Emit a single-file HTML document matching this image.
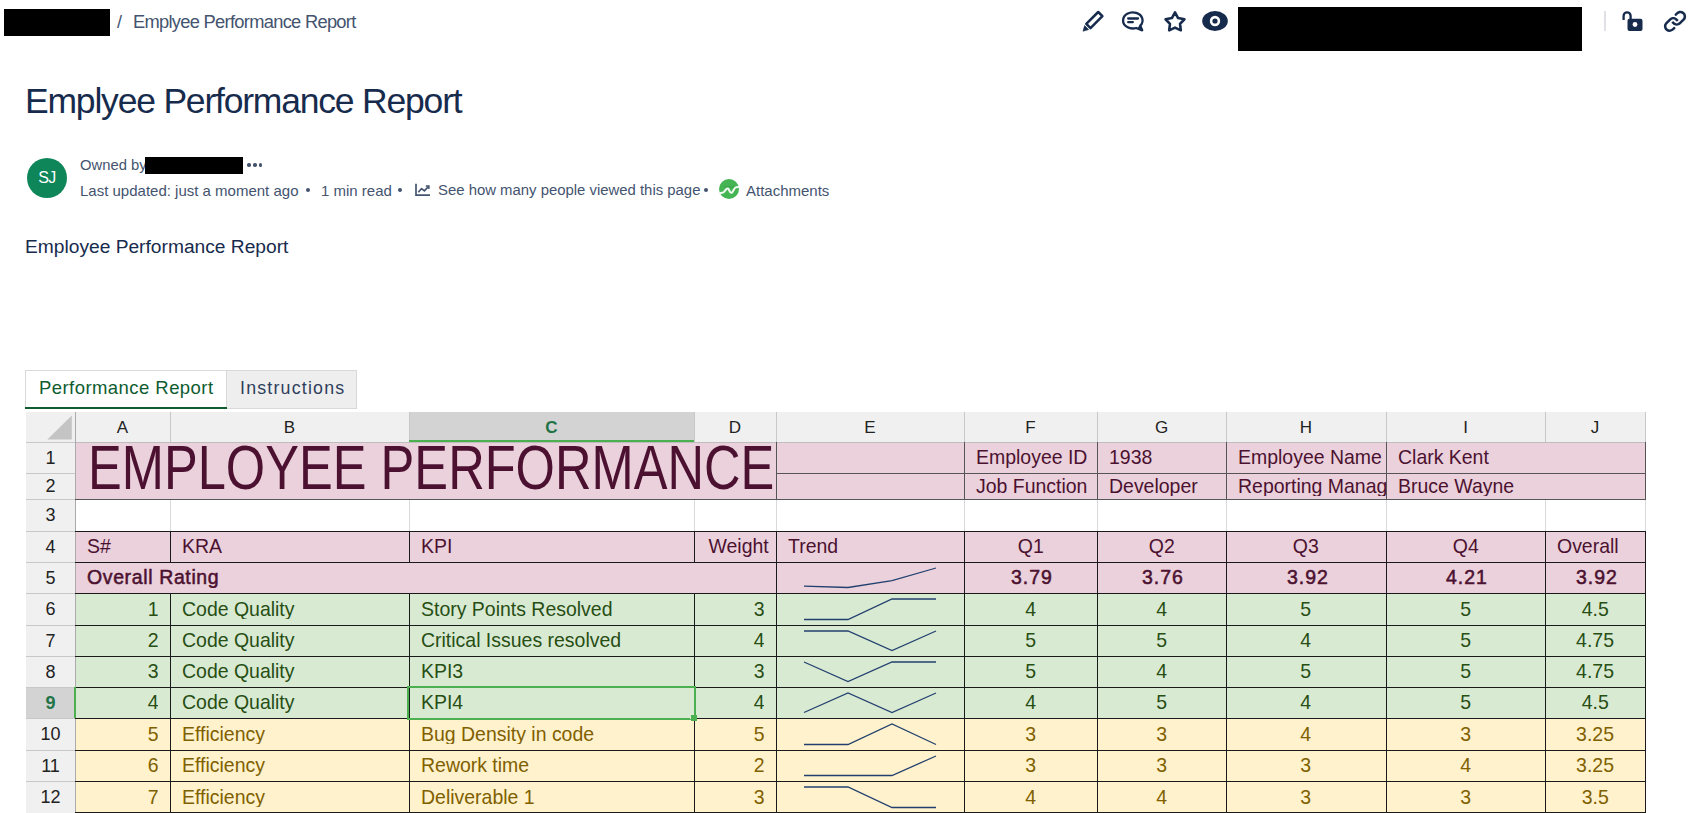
<!DOCTYPE html>
<html><head><meta charset="utf-8"><title>Emplyee Performance Report</title>
<style>
html,body{margin:0;padding:0;background:#fff;}
body{width:1699px;height:813px;overflow:hidden;position:relative;font-family:"Liberation Sans", sans-serif;}
</style></head><body>
<div style="position:absolute;left:4px;top:9px;width:106px;height:27px;background:#000"></div>
<div style="position:absolute;left:117px;top:13.26px;font-size:18px;line-height:18px;color:#44546F;font-weight:400;white-space:pre;">/</div>
<div style="position:absolute;left:133px;top:12.81px;font-size:18.3px;line-height:18.3px;color:#44546F;font-weight:400;white-space:pre;letter-spacing:-0.7px">Emplyee Performance Report</div>
<svg style="position:absolute;left:1080px;top:8px" width="26" height="26" viewBox="0 0 26 26">
<path d="M22.4 8.2 L10.5 20.1 L6.3 15.9 L18.2 4.0 Z" fill="none" stroke="#172B4D" stroke-width="2.5" stroke-linejoin="round"/>
<path d="M3.0 23.2 L4.6 17.6 L8.6 21.6 Z" fill="#172B4D" stroke="#172B4D" stroke-width="0.6" stroke-linejoin="round"/>
</svg>
<svg style="position:absolute;left:1120px;top:8px" width="26" height="26" viewBox="0 0 26 26">
<path d="M16.13 20.0 A9.75 8.05 0 1 1 20.27 17.62 L22.2 22.3 Z" fill="none" stroke="#172B4D" stroke-width="2.3" stroke-linejoin="round"/>
<path d="M22.2 22.3 L20.2 17.0 L17.6 19.4 Z" fill="#172B4D"/>
<path d="M8.2 10.5 H18.0 M8.2 14.2 H12.8" stroke="#172B4D" stroke-width="2.3" stroke-linecap="round"/>
</svg>
<svg style="position:absolute;left:1162px;top:8px" width="26" height="26" viewBox="0 0 26 26">
<polygon points="13.00,4.40 16.12,10.01 22.42,11.24 18.04,15.94 18.82,22.31 13.00,19.60 7.18,22.31 7.96,15.94 3.58,11.24 9.88,10.01" fill="none" stroke="#172B4D" stroke-width="2.6" stroke-linejoin="round"/>
</svg>
<svg style="position:absolute;left:1201px;top:8px" width="28" height="26" viewBox="0 0 28 26">
<ellipse cx="14" cy="13" rx="12.8" ry="10" fill="#172B4D"/>
<circle cx="14" cy="13" r="5.2" fill="#fff"/>
<circle cx="14" cy="13" r="2.6" fill="#172B4D"/>
</svg>
<div style="position:absolute;left:1238px;top:7px;width:344px;height:44px;background:#000"></div>
<div style="position:absolute;left:1604px;top:11px;width:2px;height:20px;background:#DFE1E6"></div>
<svg style="position:absolute;left:1618px;top:8px" width="28" height="26" viewBox="0 0 28 26">
<path d="M5.6 12 V7.9 A3.5 3.5 0 0 1 12.6 7.9 V11" fill="none" stroke="#172B4D" stroke-width="2.3"/>
<rect x="9.5" y="10.8" width="15" height="12.2" rx="2" fill="#172B4D"/>
<circle cx="17" cy="16.5" r="2.4" fill="#fff"/>
</svg>
<svg style="position:absolute;left:1659px;top:5px" width="32" height="32" viewBox="0 0 24 24">
<g transform="translate(12 12) scale(0.93) translate(-12 -12.2)">
<path d="M12.856 5.457l-.937.92a1.002 1.002 0 000 1.437 1.047 1.047 0 001.463 0l.984-.966c.967-.95 2.542-1.135 3.602-.288a2.54 2.54 0 01.203 3.81l-2.903 2.852a2.646 2.646 0 01-3.696 0l-1.11-1.09L9 13.57l1.108 1.089c1.822 1.788 4.802 1.788 6.622 0l2.905-2.852a4.558 4.558 0 00-.357-6.82c-1.893-1.517-4.695-1.226-6.422.47" fill="#172B4D"/>
<path d="M11.144 19.543l.937-.92a1.002 1.002 0 000-1.437 1.047 1.047 0 00-1.462 0l-.985.966c-.967.95-2.542 1.135-3.602.288a2.54 2.54 0 01-.203-3.81l2.903-2.852a2.646 2.646 0 013.696 0l1.11 1.09L15 11.43l-1.108-1.089c-1.822-1.788-4.802-1.788-6.622 0l-2.905 2.852a4.558 4.558 0 00.357 6.82c1.893 1.517 4.695 1.226 6.422-.47" fill="#172B4D"/>
</g>
</svg>
<div style="position:absolute;left:25px;top:83.75px;font-size:35.5px;line-height:35.5px;color:#172B4D;font-weight:400;white-space:pre;letter-spacing:-1.2px">Emplyee Performance Report</div>
<div style="position:absolute;left:27px;top:158px;width:40px;height:40px;border-radius:50%;background:#0F855A"></div>
<div style="position:absolute;left:27px;top:170.46px;font-size:16px;line-height:16px;color:#fff;font-weight:400;white-space:pre;width:40px;text-align:center;letter-spacing:-0.5px">SJ</div>
<div style="position:absolute;left:80px;top:158.47px;font-size:14.8px;line-height:14.8px;color:#44546F;font-weight:400;white-space:pre;">Owned by</div>
<div style="position:absolute;left:145px;top:157px;width:98px;height:17px;background:#000"></div>
<div style="position:absolute;left:247.4px;top:163.3px;width:3.4px;height:3.4px;border-radius:50%;background:#44546F"></div>
<div style="position:absolute;left:253.2px;top:163.3px;width:3.4px;height:3.4px;border-radius:50%;background:#44546F"></div>
<div style="position:absolute;left:259.0px;top:163.3px;width:3.4px;height:3.4px;border-radius:50%;background:#44546F"></div>
<div style="position:absolute;left:80px;top:183.30px;font-size:15px;line-height:15px;color:#44546F;font-weight:400;white-space:pre;">Last updated: just a moment ago</div>
<div style="position:absolute;left:306px;top:188px;width:4px;height:4px;border-radius:50%;background:#44546F"></div>
<div style="position:absolute;left:321px;top:183.30px;font-size:15px;line-height:15px;color:#44546F;font-weight:400;white-space:pre;">1 min read</div>
<div style="position:absolute;left:398px;top:188px;width:4px;height:4px;border-radius:50%;background:#44546F"></div>
<svg style="position:absolute;left:414px;top:182px" width="18" height="14" viewBox="0 0 18 15">
<path d="M1.5 2 V14 H16.5" fill="none" stroke="#44546F" stroke-width="1.8"/>
<path d="M4 11 L7.5 7 L10.5 9.5 L15 4.5" fill="none" stroke="#44546F" stroke-width="1.8" stroke-linejoin="round"/>
<path d="M12 4.2 H15.3 V7.5" fill="none" stroke="#44546F" stroke-width="1.6"/>
</svg>
<div style="position:absolute;left:438px;top:183.39px;font-size:14.9px;line-height:14.9px;color:#44546F;font-weight:400;white-space:pre;">See how many people viewed this page</div>
<div style="position:absolute;left:704px;top:188px;width:4px;height:4px;border-radius:50%;background:#44546F"></div>
<svg style="position:absolute;left:718px;top:178px" width="22" height="22" viewBox="0 0 22 22">
<circle cx="11" cy="11" r="10" fill="#45B553"/>
<path d="M6 9 H20" stroke="#3A9A48" stroke-width="1" opacity="0.7"/>
<path d="M1.5 15.2 L5 14.6 C7 14.2 8 9.5 10 10.5 C11.5 11.2 11.5 15.5 13.5 14.8 C15.5 14 16 9.5 18 9.3 L21 9" fill="none" stroke="#F2FAF2" stroke-width="2" stroke-linecap="round"/>
</svg>
<div style="position:absolute;left:746px;top:183.30px;font-size:15px;line-height:15px;color:#44546F;font-weight:400;white-space:pre;">Attachments</div>
<div style="position:absolute;left:25px;top:236.75px;font-size:19.2px;line-height:19.2px;color:#172B4D;font-weight:400;white-space:pre;">Employee Performance Report</div>
<div style="position:absolute;left:25px;top:370px;width:202px;height:39px;background:#fff;border:1px solid #D9D9D9;border-bottom:none;box-sizing:border-box"></div>
<div style="position:absolute;left:25px;top:407px;width:202px;height:2px;background:#0E5C2F"></div>
<div style="position:absolute;left:39px;top:379.04px;font-size:18.5px;line-height:18.5px;color:#0E5C2F;font-weight:400;white-space:pre;letter-spacing:0.44px">Performance Report</div>
<div style="position:absolute;left:227px;top:370px;width:130px;height:39px;background:#EEEEEE;border:1px solid #D9D9D9;border-left:none;box-sizing:border-box"></div>
<div style="position:absolute;left:240px;top:379.53px;font-size:17.8px;line-height:17.8px;color:#2F3E5C;font-weight:400;white-space:pre;letter-spacing:1.2px">Instructions</div>
<div style="position:absolute;left:26px;top:412px;width:1619px;height:30px;background:#F0F0F0"></div>
<div style="position:absolute;left:26px;top:442px;width:49px;height:371px;background:#F0F0F0"></div>
<div style="position:absolute;left:409px;top:412px;width:285px;height:30px;background:#D3D3D3"></div>
<div style="position:absolute;left:26px;top:687px;width:49px;height:31px;background:#D3D3D3"></div>
<div style="position:absolute;left:75px;top:442px;width:1570px;height:57px;background:#EAD1DC"></div>
<div style="position:absolute;left:75px;top:531px;width:1570px;height:62px;background:#EAD1DC"></div>
<div style="position:absolute;left:75px;top:593px;width:1570px;height:125px;background:#D9EAD3"></div>
<div style="position:absolute;left:75px;top:718px;width:1570px;height:95px;background:#FFF2CC"></div>
<div style="position:absolute;left:75px;top:412px;width:1px;height:30px;background:#C8C8C8"></div>
<div style="position:absolute;left:170px;top:412px;width:1px;height:30px;background:#C8C8C8"></div>
<div style="position:absolute;left:409px;top:412px;width:1px;height:30px;background:#C8C8C8"></div>
<div style="position:absolute;left:694px;top:412px;width:1px;height:30px;background:#C8C8C8"></div>
<div style="position:absolute;left:776px;top:412px;width:1px;height:30px;background:#C8C8C8"></div>
<div style="position:absolute;left:964px;top:412px;width:1px;height:30px;background:#C8C8C8"></div>
<div style="position:absolute;left:1097px;top:412px;width:1px;height:30px;background:#C8C8C8"></div>
<div style="position:absolute;left:1226px;top:412px;width:1px;height:30px;background:#C8C8C8"></div>
<div style="position:absolute;left:1386px;top:412px;width:1px;height:30px;background:#C8C8C8"></div>
<div style="position:absolute;left:1545px;top:412px;width:1px;height:30px;background:#C8C8C8"></div>
<div style="position:absolute;left:1645px;top:412px;width:1px;height:30px;background:#C8C8C8"></div>
<div style="position:absolute;left:26px;top:442px;width:1620px;height:1px;background:#BDBDBD"></div>
<div style="position:absolute;left:26px;top:442px;width:49px;height:1px;background:#C8C8C8"></div>
<div style="position:absolute;left:26px;top:473px;width:49px;height:1px;background:#C8C8C8"></div>
<div style="position:absolute;left:26px;top:499px;width:49px;height:1px;background:#C8C8C8"></div>
<div style="position:absolute;left:26px;top:531px;width:49px;height:1px;background:#C8C8C8"></div>
<div style="position:absolute;left:26px;top:562px;width:49px;height:1px;background:#C8C8C8"></div>
<div style="position:absolute;left:26px;top:593px;width:49px;height:1px;background:#C8C8C8"></div>
<div style="position:absolute;left:26px;top:625px;width:49px;height:1px;background:#C8C8C8"></div>
<div style="position:absolute;left:26px;top:656px;width:49px;height:1px;background:#C8C8C8"></div>
<div style="position:absolute;left:26px;top:687px;width:49px;height:1px;background:#C8C8C8"></div>
<div style="position:absolute;left:26px;top:718px;width:49px;height:1px;background:#C8C8C8"></div>
<div style="position:absolute;left:26px;top:750px;width:49px;height:1px;background:#C8C8C8"></div>
<div style="position:absolute;left:26px;top:781px;width:49px;height:1px;background:#C8C8C8"></div>
<div style="position:absolute;left:75px;top:412px;width:1px;height:401px;background:#ABABAB"></div>
<div style="position:absolute;left:170px;top:499px;width:1px;height:32px;background:#D9D9D9"></div>
<div style="position:absolute;left:409px;top:499px;width:1px;height:32px;background:#D9D9D9"></div>
<div style="position:absolute;left:694px;top:499px;width:1px;height:32px;background:#D9D9D9"></div>
<div style="position:absolute;left:776px;top:499px;width:1px;height:32px;background:#D9D9D9"></div>
<div style="position:absolute;left:964px;top:499px;width:1px;height:32px;background:#D9D9D9"></div>
<div style="position:absolute;left:1097px;top:499px;width:1px;height:32px;background:#D9D9D9"></div>
<div style="position:absolute;left:1226px;top:499px;width:1px;height:32px;background:#D9D9D9"></div>
<div style="position:absolute;left:1386px;top:499px;width:1px;height:32px;background:#D9D9D9"></div>
<div style="position:absolute;left:1545px;top:499px;width:1px;height:32px;background:#D9D9D9"></div>
<div style="position:absolute;left:1645px;top:499px;width:1px;height:32px;background:#D9D9D9"></div>
<div style="position:absolute;left:776px;top:473px;width:869px;height:1px;background:#555"></div>
<div style="position:absolute;left:75px;top:499px;width:1571px;height:1px;background:#555"></div>
<div style="position:absolute;left:776px;top:442px;width:1px;height:57px;background:#555"></div>
<div style="position:absolute;left:964px;top:442px;width:1px;height:57px;background:#555"></div>
<div style="position:absolute;left:1097px;top:442px;width:1px;height:57px;background:#555"></div>
<div style="position:absolute;left:1226px;top:442px;width:1px;height:57px;background:#555"></div>
<div style="position:absolute;left:1386px;top:442px;width:1px;height:57px;background:#555"></div>
<div style="position:absolute;left:1645px;top:442px;width:1px;height:57px;background:#555"></div>
<div style="position:absolute;left:75px;top:531px;width:1571px;height:1px;background:#1A1A1A"></div>
<div style="position:absolute;left:75px;top:562px;width:1571px;height:1px;background:#1A1A1A"></div>
<div style="position:absolute;left:75px;top:593px;width:1571px;height:1px;background:#1A1A1A"></div>
<div style="position:absolute;left:75px;top:625px;width:1571px;height:1px;background:#1A1A1A"></div>
<div style="position:absolute;left:75px;top:656px;width:1571px;height:1px;background:#1A1A1A"></div>
<div style="position:absolute;left:75px;top:687px;width:1571px;height:1px;background:#1A1A1A"></div>
<div style="position:absolute;left:75px;top:718px;width:1571px;height:1px;background:#1A1A1A"></div>
<div style="position:absolute;left:75px;top:750px;width:1571px;height:1px;background:#1A1A1A"></div>
<div style="position:absolute;left:75px;top:781px;width:1571px;height:1px;background:#1A1A1A"></div>
<div style="position:absolute;left:75px;top:812px;width:1571px;height:1px;background:#1A1A1A"></div>
<div style="position:absolute;left:170px;top:531px;width:1px;height:31px;background:#1A1A1A"></div>
<div style="position:absolute;left:170px;top:593px;width:1px;height:220px;background:#1A1A1A"></div>
<div style="position:absolute;left:409px;top:531px;width:1px;height:31px;background:#1A1A1A"></div>
<div style="position:absolute;left:409px;top:593px;width:1px;height:220px;background:#1A1A1A"></div>
<div style="position:absolute;left:694px;top:531px;width:1px;height:31px;background:#1A1A1A"></div>
<div style="position:absolute;left:694px;top:593px;width:1px;height:220px;background:#1A1A1A"></div>
<div style="position:absolute;left:776px;top:531px;width:1px;height:282px;background:#1A1A1A"></div>
<div style="position:absolute;left:964px;top:531px;width:1px;height:282px;background:#1A1A1A"></div>
<div style="position:absolute;left:1097px;top:531px;width:1px;height:282px;background:#1A1A1A"></div>
<div style="position:absolute;left:1226px;top:531px;width:1px;height:282px;background:#1A1A1A"></div>
<div style="position:absolute;left:1386px;top:531px;width:1px;height:282px;background:#1A1A1A"></div>
<div style="position:absolute;left:1545px;top:531px;width:1px;height:282px;background:#1A1A1A"></div>
<div style="position:absolute;left:1645px;top:531px;width:1px;height:282px;background:#1A1A1A"></div>
<div style="position:absolute;left:75px;top:418.61px;width:95px;text-align:center;font-size:17px;line-height:17px;color:#222;font-weight:400;white-space:pre;overflow:hidden;">A</div>
<div style="position:absolute;left:170px;top:418.61px;width:239px;text-align:center;font-size:17px;line-height:17px;color:#222;font-weight:400;white-space:pre;overflow:hidden;">B</div>
<div style="position:absolute;left:409px;top:418.61px;width:285px;text-align:center;font-size:17px;line-height:17px;color:#217346;font-weight:700;white-space:pre;overflow:hidden;">C</div>
<div style="position:absolute;left:694px;top:418.61px;width:82px;text-align:center;font-size:17px;line-height:17px;color:#222;font-weight:400;white-space:pre;overflow:hidden;">D</div>
<div style="position:absolute;left:776px;top:418.61px;width:188px;text-align:center;font-size:17px;line-height:17px;color:#222;font-weight:400;white-space:pre;overflow:hidden;">E</div>
<div style="position:absolute;left:964px;top:418.61px;width:133px;text-align:center;font-size:17px;line-height:17px;color:#222;font-weight:400;white-space:pre;overflow:hidden;">F</div>
<div style="position:absolute;left:1097px;top:418.61px;width:129px;text-align:center;font-size:17px;line-height:17px;color:#222;font-weight:400;white-space:pre;overflow:hidden;">G</div>
<div style="position:absolute;left:1226px;top:418.61px;width:160px;text-align:center;font-size:17px;line-height:17px;color:#222;font-weight:400;white-space:pre;overflow:hidden;">H</div>
<div style="position:absolute;left:1386px;top:418.61px;width:159px;text-align:center;font-size:17px;line-height:17px;color:#222;font-weight:400;white-space:pre;overflow:hidden;">I</div>
<div style="position:absolute;left:1545px;top:418.61px;width:100px;text-align:center;font-size:17px;line-height:17px;color:#222;font-weight:400;white-space:pre;overflow:hidden;">J</div>
<div style="position:absolute;left:409px;top:440px;width:285px;height:2px;background:#4CAF50"></div>
<svg style="position:absolute;left:26px;top:412px" width="49" height="30"><path d="M21.3 27.4 L45.8 27.4 L45.8 3.4 Z" fill="#C4C4C4"/></svg>
<div style="position:absolute;left:26px;top:448.76px;width:49px;text-align:center;font-size:18px;line-height:18px;color:#222;font-weight:400;white-space:pre;overflow:hidden;">1</div>
<div style="position:absolute;left:26px;top:477.26px;width:49px;text-align:center;font-size:18px;line-height:18px;color:#222;font-weight:400;white-space:pre;overflow:hidden;">2</div>
<div style="position:absolute;left:26px;top:506.26px;width:49px;text-align:center;font-size:18px;line-height:18px;color:#222;font-weight:400;white-space:pre;overflow:hidden;">3</div>
<div style="position:absolute;left:26px;top:537.76px;width:49px;text-align:center;font-size:18px;line-height:18px;color:#222;font-weight:400;white-space:pre;overflow:hidden;">4</div>
<div style="position:absolute;left:26px;top:568.76px;width:49px;text-align:center;font-size:18px;line-height:18px;color:#222;font-weight:400;white-space:pre;overflow:hidden;">5</div>
<div style="position:absolute;left:26px;top:600.26px;width:49px;text-align:center;font-size:18px;line-height:18px;color:#222;font-weight:400;white-space:pre;overflow:hidden;">6</div>
<div style="position:absolute;left:26px;top:631.76px;width:49px;text-align:center;font-size:18px;line-height:18px;color:#222;font-weight:400;white-space:pre;overflow:hidden;">7</div>
<div style="position:absolute;left:26px;top:662.76px;width:49px;text-align:center;font-size:18px;line-height:18px;color:#222;font-weight:400;white-space:pre;overflow:hidden;">8</div>
<div style="position:absolute;left:26px;top:693.76px;width:49px;text-align:center;font-size:18px;line-height:18px;color:#217346;font-weight:700;white-space:pre;overflow:hidden;">9</div>
<div style="position:absolute;left:26px;top:725.26px;width:49px;text-align:center;font-size:18px;line-height:18px;color:#222;font-weight:400;white-space:pre;overflow:hidden;">10</div>
<div style="position:absolute;left:26px;top:756.76px;width:49px;text-align:center;font-size:18px;line-height:18px;color:#222;font-weight:400;white-space:pre;overflow:hidden;">11</div>
<div style="position:absolute;left:26px;top:788.26px;width:49px;text-align:center;font-size:18px;line-height:18px;color:#222;font-weight:400;white-space:pre;overflow:hidden;">12</div>
<div style="position:absolute;left:74px;top:687px;width:2px;height:31px;background:#4CAF50"></div>
<div style="position:absolute;left:88px;top:436.1px;font-size:62.5px;line-height:62.5px;color:#4C1130;white-space:pre;transform:scaleX(0.81);transform-origin:0 0">EMPLOYEE PERFORMANCE</div>
<div style="position:absolute;left:976px;top:447.26px;width:121px;text-align:left;font-size:20.6px;line-height:20.6px;color:#4C1130;font-weight:400;white-space:pre;overflow:hidden;"><span style="display:inline-block;transform:scaleX(0.945);transform-origin:0 0">Employee ID</span></div>
<div style="position:absolute;left:1109px;top:447.26px;width:117px;text-align:left;font-size:20.6px;line-height:20.6px;color:#4C1130;font-weight:400;white-space:pre;overflow:hidden;"><span style="display:inline-block;transform:scaleX(0.945);transform-origin:0 0">1938</span></div>
<div style="position:absolute;left:1238px;top:447.26px;width:148px;text-align:left;font-size:20.6px;line-height:20.6px;color:#4C1130;font-weight:400;white-space:pre;overflow:hidden;"><span style="display:inline-block;transform:scaleX(0.945);transform-origin:0 0">Employee Name</span></div>
<div style="position:absolute;left:1398px;top:447.26px;width:147px;text-align:left;font-size:20.6px;line-height:20.6px;color:#4C1130;font-weight:400;white-space:pre;overflow:hidden;"><span style="display:inline-block;transform:scaleX(0.945);transform-origin:0 0">Clark Kent</span></div>
<div style="position:absolute;left:976px;top:475.76px;width:121px;text-align:left;font-size:20.6px;line-height:20.6px;color:#4C1130;font-weight:400;white-space:pre;overflow:hidden;"><span style="display:inline-block;transform:scaleX(0.945);transform-origin:0 0">Job Function</span></div>
<div style="position:absolute;left:1109px;top:475.76px;width:117px;text-align:left;font-size:20.6px;line-height:20.6px;color:#4C1130;font-weight:400;white-space:pre;overflow:hidden;"><span style="display:inline-block;transform:scaleX(0.945);transform-origin:0 0">Developer</span></div>
<div style="position:absolute;left:1238px;top:475.76px;width:148px;text-align:left;font-size:20.6px;line-height:20.6px;color:#4C1130;font-weight:400;white-space:pre;overflow:hidden;"><span style="display:inline-block;transform:scaleX(0.945);transform-origin:0 0">Reporting Manager</span></div>
<div style="position:absolute;left:1398px;top:475.76px;width:147px;text-align:left;font-size:20.6px;line-height:20.6px;color:#4C1130;font-weight:400;white-space:pre;overflow:hidden;"><span style="display:inline-block;transform:scaleX(0.945);transform-origin:0 0">Bruce Wayne</span></div>
<div style="position:absolute;left:87px;top:536.26px;width:83px;text-align:left;font-size:20.6px;line-height:20.6px;color:#4C1130;font-weight:400;white-space:pre;overflow:hidden;"><span style="display:inline-block;transform:scaleX(0.945);transform-origin:0 0">S#</span></div>
<div style="position:absolute;left:182px;top:536.26px;width:227px;text-align:left;font-size:20.6px;line-height:20.6px;color:#4C1130;font-weight:400;white-space:pre;overflow:hidden;"><span style="display:inline-block;transform:scaleX(0.945);transform-origin:0 0">KRA</span></div>
<div style="position:absolute;left:421px;top:536.26px;width:273px;text-align:left;font-size:20.6px;line-height:20.6px;color:#4C1130;font-weight:400;white-space:pre;overflow:hidden;"><span style="display:inline-block;transform:scaleX(0.945);transform-origin:0 0">KPI</span></div>
<div style="position:absolute;left:694px;top:536.26px;width:75px;text-align:right;font-size:20.6px;line-height:20.6px;color:#4C1130;font-weight:400;white-space:pre;overflow:hidden;"><span style="display:inline-block;transform:scaleX(0.945);transform-origin:100% 0">Weight</span></div>
<div style="position:absolute;left:788px;top:536.26px;width:176px;text-align:left;font-size:20.6px;line-height:20.6px;color:#4C1130;font-weight:400;white-space:pre;overflow:hidden;"><span style="display:inline-block;transform:scaleX(0.945);transform-origin:0 0">Trend</span></div>
<div style="position:absolute;left:964px;top:536.26px;width:133px;text-align:center;font-size:20.6px;line-height:20.6px;color:#4C1130;font-weight:400;white-space:pre;overflow:hidden;"><span style="display:inline-block;transform:scaleX(0.945);transform-origin:50% 0">Q1</span></div>
<div style="position:absolute;left:1097px;top:536.26px;width:129px;text-align:center;font-size:20.6px;line-height:20.6px;color:#4C1130;font-weight:400;white-space:pre;overflow:hidden;"><span style="display:inline-block;transform:scaleX(0.945);transform-origin:50% 0">Q2</span></div>
<div style="position:absolute;left:1226px;top:536.26px;width:160px;text-align:center;font-size:20.6px;line-height:20.6px;color:#4C1130;font-weight:400;white-space:pre;overflow:hidden;"><span style="display:inline-block;transform:scaleX(0.945);transform-origin:50% 0">Q3</span></div>
<div style="position:absolute;left:1386px;top:536.26px;width:159px;text-align:center;font-size:20.6px;line-height:20.6px;color:#4C1130;font-weight:400;white-space:pre;overflow:hidden;"><span style="display:inline-block;transform:scaleX(0.945);transform-origin:50% 0">Q4</span></div>
<div style="position:absolute;left:1557px;top:536.26px;width:88px;text-align:left;font-size:20.6px;line-height:20.6px;color:#4C1130;font-weight:400;white-space:pre;overflow:hidden;"><span style="display:inline-block;transform:scaleX(0.945);transform-origin:0 0">Overall</span></div>
<div style="position:absolute;left:87px;top:567.26px;width:689px;text-align:left;font-size:20.6px;line-height:20.6px;color:#4C1130;font-weight:400;white-space:pre;overflow:hidden;"><span style="display:inline-block;transform:scaleX(0.945);transform-origin:0 0"><span style="-webkit-text-stroke:0.55px #4C1130;letter-spacing:0.68px">Overall Rating</span></span></div>
<div style="position:absolute;left:964px;top:567.26px;width:133px;text-align:center;font-size:20.6px;line-height:20.6px;color:#4C1130;font-weight:400;white-space:pre;overflow:hidden;"><span style="display:inline-block;transform:scaleX(0.945);transform-origin:50% 0"><span style="-webkit-text-stroke:0.55px #4C1130;letter-spacing:1px;position:relative;left:2px">3.79</span></span></div>
<div style="position:absolute;left:1097px;top:567.26px;width:129px;text-align:center;font-size:20.6px;line-height:20.6px;color:#4C1130;font-weight:400;white-space:pre;overflow:hidden;"><span style="display:inline-block;transform:scaleX(0.945);transform-origin:50% 0"><span style="-webkit-text-stroke:0.55px #4C1130;letter-spacing:1px;position:relative;left:2px">3.76</span></span></div>
<div style="position:absolute;left:1226px;top:567.26px;width:160px;text-align:center;font-size:20.6px;line-height:20.6px;color:#4C1130;font-weight:400;white-space:pre;overflow:hidden;"><span style="display:inline-block;transform:scaleX(0.945);transform-origin:50% 0"><span style="-webkit-text-stroke:0.55px #4C1130;letter-spacing:1px;position:relative;left:2px">3.92</span></span></div>
<div style="position:absolute;left:1386px;top:567.26px;width:159px;text-align:center;font-size:20.6px;line-height:20.6px;color:#4C1130;font-weight:400;white-space:pre;overflow:hidden;"><span style="display:inline-block;transform:scaleX(0.945);transform-origin:50% 0"><span style="-webkit-text-stroke:0.55px #4C1130;letter-spacing:1px;position:relative;left:2px">4.21</span></span></div>
<div style="position:absolute;left:1545px;top:567.26px;width:100px;text-align:center;font-size:20.6px;line-height:20.6px;color:#4C1130;font-weight:400;white-space:pre;overflow:hidden;"><span style="display:inline-block;transform:scaleX(0.945);transform-origin:50% 0"><span style="-webkit-text-stroke:0.55px #4C1130;letter-spacing:1px;position:relative;left:2px">3.92</span></span></div>
<div style="position:absolute;left:75px;top:598.76px;width:83px;text-align:right;font-size:20.6px;line-height:20.6px;color:#274E13;font-weight:400;white-space:pre;overflow:hidden;"><span style="display:inline-block;transform:scaleX(0.945);transform-origin:100% 0">1</span></div>
<div style="position:absolute;left:182px;top:598.76px;width:227px;text-align:left;font-size:20.6px;line-height:20.6px;color:#274E13;font-weight:400;white-space:pre;overflow:hidden;"><span style="display:inline-block;transform:scaleX(0.945);transform-origin:0 0">Code Quality</span></div>
<div style="position:absolute;left:421px;top:598.76px;width:273px;text-align:left;font-size:20.6px;line-height:20.6px;color:#274E13;font-weight:400;white-space:pre;overflow:hidden;"><span style="display:inline-block;transform:scaleX(0.945);transform-origin:0 0">Story Points Resolved</span></div>
<div style="position:absolute;left:694px;top:598.76px;width:70px;text-align:right;font-size:20.6px;line-height:20.6px;color:#274E13;font-weight:400;white-space:pre;overflow:hidden;"><span style="display:inline-block;transform:scaleX(0.945);transform-origin:100% 0">3</span></div>
<div style="position:absolute;left:964px;top:598.76px;width:133px;text-align:center;font-size:20.6px;line-height:20.6px;color:#274E13;font-weight:400;white-space:pre;overflow:hidden;"><span style="display:inline-block;transform:scaleX(0.945);transform-origin:50% 0">4</span></div>
<div style="position:absolute;left:1097px;top:598.76px;width:129px;text-align:center;font-size:20.6px;line-height:20.6px;color:#274E13;font-weight:400;white-space:pre;overflow:hidden;"><span style="display:inline-block;transform:scaleX(0.945);transform-origin:50% 0">4</span></div>
<div style="position:absolute;left:1226px;top:598.76px;width:160px;text-align:center;font-size:20.6px;line-height:20.6px;color:#274E13;font-weight:400;white-space:pre;overflow:hidden;"><span style="display:inline-block;transform:scaleX(0.945);transform-origin:50% 0">5</span></div>
<div style="position:absolute;left:1386px;top:598.76px;width:159px;text-align:center;font-size:20.6px;line-height:20.6px;color:#274E13;font-weight:400;white-space:pre;overflow:hidden;"><span style="display:inline-block;transform:scaleX(0.945);transform-origin:50% 0">5</span></div>
<div style="position:absolute;left:1545px;top:598.76px;width:100px;text-align:center;font-size:20.6px;line-height:20.6px;color:#274E13;font-weight:400;white-space:pre;overflow:hidden;"><span style="display:inline-block;transform:scaleX(0.945);transform-origin:50% 0">4.5</span></div>
<div style="position:absolute;left:75px;top:630.26px;width:83px;text-align:right;font-size:20.6px;line-height:20.6px;color:#274E13;font-weight:400;white-space:pre;overflow:hidden;"><span style="display:inline-block;transform:scaleX(0.945);transform-origin:100% 0">2</span></div>
<div style="position:absolute;left:182px;top:630.26px;width:227px;text-align:left;font-size:20.6px;line-height:20.6px;color:#274E13;font-weight:400;white-space:pre;overflow:hidden;"><span style="display:inline-block;transform:scaleX(0.945);transform-origin:0 0">Code Quality</span></div>
<div style="position:absolute;left:421px;top:630.26px;width:273px;text-align:left;font-size:20.6px;line-height:20.6px;color:#274E13;font-weight:400;white-space:pre;overflow:hidden;"><span style="display:inline-block;transform:scaleX(0.945);transform-origin:0 0">Critical Issues resolved</span></div>
<div style="position:absolute;left:694px;top:630.26px;width:70px;text-align:right;font-size:20.6px;line-height:20.6px;color:#274E13;font-weight:400;white-space:pre;overflow:hidden;"><span style="display:inline-block;transform:scaleX(0.945);transform-origin:100% 0">4</span></div>
<div style="position:absolute;left:964px;top:630.26px;width:133px;text-align:center;font-size:20.6px;line-height:20.6px;color:#274E13;font-weight:400;white-space:pre;overflow:hidden;"><span style="display:inline-block;transform:scaleX(0.945);transform-origin:50% 0">5</span></div>
<div style="position:absolute;left:1097px;top:630.26px;width:129px;text-align:center;font-size:20.6px;line-height:20.6px;color:#274E13;font-weight:400;white-space:pre;overflow:hidden;"><span style="display:inline-block;transform:scaleX(0.945);transform-origin:50% 0">5</span></div>
<div style="position:absolute;left:1226px;top:630.26px;width:160px;text-align:center;font-size:20.6px;line-height:20.6px;color:#274E13;font-weight:400;white-space:pre;overflow:hidden;"><span style="display:inline-block;transform:scaleX(0.945);transform-origin:50% 0">4</span></div>
<div style="position:absolute;left:1386px;top:630.26px;width:159px;text-align:center;font-size:20.6px;line-height:20.6px;color:#274E13;font-weight:400;white-space:pre;overflow:hidden;"><span style="display:inline-block;transform:scaleX(0.945);transform-origin:50% 0">5</span></div>
<div style="position:absolute;left:1545px;top:630.26px;width:100px;text-align:center;font-size:20.6px;line-height:20.6px;color:#274E13;font-weight:400;white-space:pre;overflow:hidden;"><span style="display:inline-block;transform:scaleX(0.945);transform-origin:50% 0">4.75</span></div>
<div style="position:absolute;left:75px;top:661.26px;width:83px;text-align:right;font-size:20.6px;line-height:20.6px;color:#274E13;font-weight:400;white-space:pre;overflow:hidden;"><span style="display:inline-block;transform:scaleX(0.945);transform-origin:100% 0">3</span></div>
<div style="position:absolute;left:182px;top:661.26px;width:227px;text-align:left;font-size:20.6px;line-height:20.6px;color:#274E13;font-weight:400;white-space:pre;overflow:hidden;"><span style="display:inline-block;transform:scaleX(0.945);transform-origin:0 0">Code Quality</span></div>
<div style="position:absolute;left:421px;top:661.26px;width:273px;text-align:left;font-size:20.6px;line-height:20.6px;color:#274E13;font-weight:400;white-space:pre;overflow:hidden;"><span style="display:inline-block;transform:scaleX(0.945);transform-origin:0 0">KPI3</span></div>
<div style="position:absolute;left:694px;top:661.26px;width:70px;text-align:right;font-size:20.6px;line-height:20.6px;color:#274E13;font-weight:400;white-space:pre;overflow:hidden;"><span style="display:inline-block;transform:scaleX(0.945);transform-origin:100% 0">3</span></div>
<div style="position:absolute;left:964px;top:661.26px;width:133px;text-align:center;font-size:20.6px;line-height:20.6px;color:#274E13;font-weight:400;white-space:pre;overflow:hidden;"><span style="display:inline-block;transform:scaleX(0.945);transform-origin:50% 0">5</span></div>
<div style="position:absolute;left:1097px;top:661.26px;width:129px;text-align:center;font-size:20.6px;line-height:20.6px;color:#274E13;font-weight:400;white-space:pre;overflow:hidden;"><span style="display:inline-block;transform:scaleX(0.945);transform-origin:50% 0">4</span></div>
<div style="position:absolute;left:1226px;top:661.26px;width:160px;text-align:center;font-size:20.6px;line-height:20.6px;color:#274E13;font-weight:400;white-space:pre;overflow:hidden;"><span style="display:inline-block;transform:scaleX(0.945);transform-origin:50% 0">5</span></div>
<div style="position:absolute;left:1386px;top:661.26px;width:159px;text-align:center;font-size:20.6px;line-height:20.6px;color:#274E13;font-weight:400;white-space:pre;overflow:hidden;"><span style="display:inline-block;transform:scaleX(0.945);transform-origin:50% 0">5</span></div>
<div style="position:absolute;left:1545px;top:661.26px;width:100px;text-align:center;font-size:20.6px;line-height:20.6px;color:#274E13;font-weight:400;white-space:pre;overflow:hidden;"><span style="display:inline-block;transform:scaleX(0.945);transform-origin:50% 0">4.75</span></div>
<div style="position:absolute;left:75px;top:692.26px;width:83px;text-align:right;font-size:20.6px;line-height:20.6px;color:#274E13;font-weight:400;white-space:pre;overflow:hidden;"><span style="display:inline-block;transform:scaleX(0.945);transform-origin:100% 0">4</span></div>
<div style="position:absolute;left:182px;top:692.26px;width:227px;text-align:left;font-size:20.6px;line-height:20.6px;color:#274E13;font-weight:400;white-space:pre;overflow:hidden;"><span style="display:inline-block;transform:scaleX(0.945);transform-origin:0 0">Code Quality</span></div>
<div style="position:absolute;left:421px;top:692.26px;width:273px;text-align:left;font-size:20.6px;line-height:20.6px;color:#274E13;font-weight:400;white-space:pre;overflow:hidden;"><span style="display:inline-block;transform:scaleX(0.945);transform-origin:0 0">KPI4</span></div>
<div style="position:absolute;left:694px;top:692.26px;width:70px;text-align:right;font-size:20.6px;line-height:20.6px;color:#274E13;font-weight:400;white-space:pre;overflow:hidden;"><span style="display:inline-block;transform:scaleX(0.945);transform-origin:100% 0">4</span></div>
<div style="position:absolute;left:964px;top:692.26px;width:133px;text-align:center;font-size:20.6px;line-height:20.6px;color:#274E13;font-weight:400;white-space:pre;overflow:hidden;"><span style="display:inline-block;transform:scaleX(0.945);transform-origin:50% 0">4</span></div>
<div style="position:absolute;left:1097px;top:692.26px;width:129px;text-align:center;font-size:20.6px;line-height:20.6px;color:#274E13;font-weight:400;white-space:pre;overflow:hidden;"><span style="display:inline-block;transform:scaleX(0.945);transform-origin:50% 0">5</span></div>
<div style="position:absolute;left:1226px;top:692.26px;width:160px;text-align:center;font-size:20.6px;line-height:20.6px;color:#274E13;font-weight:400;white-space:pre;overflow:hidden;"><span style="display:inline-block;transform:scaleX(0.945);transform-origin:50% 0">4</span></div>
<div style="position:absolute;left:1386px;top:692.26px;width:159px;text-align:center;font-size:20.6px;line-height:20.6px;color:#274E13;font-weight:400;white-space:pre;overflow:hidden;"><span style="display:inline-block;transform:scaleX(0.945);transform-origin:50% 0">5</span></div>
<div style="position:absolute;left:1545px;top:692.26px;width:100px;text-align:center;font-size:20.6px;line-height:20.6px;color:#274E13;font-weight:400;white-space:pre;overflow:hidden;"><span style="display:inline-block;transform:scaleX(0.945);transform-origin:50% 0">4.5</span></div>
<div style="position:absolute;left:75px;top:723.76px;width:83px;text-align:right;font-size:20.6px;line-height:20.6px;color:#7F6000;font-weight:400;white-space:pre;overflow:hidden;"><span style="display:inline-block;transform:scaleX(0.945);transform-origin:100% 0">5</span></div>
<div style="position:absolute;left:182px;top:723.76px;width:227px;text-align:left;font-size:20.6px;line-height:20.6px;color:#7F6000;font-weight:400;white-space:pre;overflow:hidden;"><span style="display:inline-block;transform:scaleX(0.945);transform-origin:0 0">Efficiency</span></div>
<div style="position:absolute;left:421px;top:723.76px;width:273px;text-align:left;font-size:20.6px;line-height:20.6px;color:#7F6000;font-weight:400;white-space:pre;overflow:hidden;"><span style="display:inline-block;transform:scaleX(0.945);transform-origin:0 0">Bug Density in code</span></div>
<div style="position:absolute;left:694px;top:723.76px;width:70px;text-align:right;font-size:20.6px;line-height:20.6px;color:#7F6000;font-weight:400;white-space:pre;overflow:hidden;"><span style="display:inline-block;transform:scaleX(0.945);transform-origin:100% 0">5</span></div>
<div style="position:absolute;left:964px;top:723.76px;width:133px;text-align:center;font-size:20.6px;line-height:20.6px;color:#7F6000;font-weight:400;white-space:pre;overflow:hidden;"><span style="display:inline-block;transform:scaleX(0.945);transform-origin:50% 0">3</span></div>
<div style="position:absolute;left:1097px;top:723.76px;width:129px;text-align:center;font-size:20.6px;line-height:20.6px;color:#7F6000;font-weight:400;white-space:pre;overflow:hidden;"><span style="display:inline-block;transform:scaleX(0.945);transform-origin:50% 0">3</span></div>
<div style="position:absolute;left:1226px;top:723.76px;width:160px;text-align:center;font-size:20.6px;line-height:20.6px;color:#7F6000;font-weight:400;white-space:pre;overflow:hidden;"><span style="display:inline-block;transform:scaleX(0.945);transform-origin:50% 0">4</span></div>
<div style="position:absolute;left:1386px;top:723.76px;width:159px;text-align:center;font-size:20.6px;line-height:20.6px;color:#7F6000;font-weight:400;white-space:pre;overflow:hidden;"><span style="display:inline-block;transform:scaleX(0.945);transform-origin:50% 0">3</span></div>
<div style="position:absolute;left:1545px;top:723.76px;width:100px;text-align:center;font-size:20.6px;line-height:20.6px;color:#7F6000;font-weight:400;white-space:pre;overflow:hidden;"><span style="display:inline-block;transform:scaleX(0.945);transform-origin:50% 0">3.25</span></div>
<div style="position:absolute;left:75px;top:755.26px;width:83px;text-align:right;font-size:20.6px;line-height:20.6px;color:#7F6000;font-weight:400;white-space:pre;overflow:hidden;"><span style="display:inline-block;transform:scaleX(0.945);transform-origin:100% 0">6</span></div>
<div style="position:absolute;left:182px;top:755.26px;width:227px;text-align:left;font-size:20.6px;line-height:20.6px;color:#7F6000;font-weight:400;white-space:pre;overflow:hidden;"><span style="display:inline-block;transform:scaleX(0.945);transform-origin:0 0">Efficiency</span></div>
<div style="position:absolute;left:421px;top:755.26px;width:273px;text-align:left;font-size:20.6px;line-height:20.6px;color:#7F6000;font-weight:400;white-space:pre;overflow:hidden;"><span style="display:inline-block;transform:scaleX(0.945);transform-origin:0 0">Rework time</span></div>
<div style="position:absolute;left:694px;top:755.26px;width:70px;text-align:right;font-size:20.6px;line-height:20.6px;color:#7F6000;font-weight:400;white-space:pre;overflow:hidden;"><span style="display:inline-block;transform:scaleX(0.945);transform-origin:100% 0">2</span></div>
<div style="position:absolute;left:964px;top:755.26px;width:133px;text-align:center;font-size:20.6px;line-height:20.6px;color:#7F6000;font-weight:400;white-space:pre;overflow:hidden;"><span style="display:inline-block;transform:scaleX(0.945);transform-origin:50% 0">3</span></div>
<div style="position:absolute;left:1097px;top:755.26px;width:129px;text-align:center;font-size:20.6px;line-height:20.6px;color:#7F6000;font-weight:400;white-space:pre;overflow:hidden;"><span style="display:inline-block;transform:scaleX(0.945);transform-origin:50% 0">3</span></div>
<div style="position:absolute;left:1226px;top:755.26px;width:160px;text-align:center;font-size:20.6px;line-height:20.6px;color:#7F6000;font-weight:400;white-space:pre;overflow:hidden;"><span style="display:inline-block;transform:scaleX(0.945);transform-origin:50% 0">3</span></div>
<div style="position:absolute;left:1386px;top:755.26px;width:159px;text-align:center;font-size:20.6px;line-height:20.6px;color:#7F6000;font-weight:400;white-space:pre;overflow:hidden;"><span style="display:inline-block;transform:scaleX(0.945);transform-origin:50% 0">4</span></div>
<div style="position:absolute;left:1545px;top:755.26px;width:100px;text-align:center;font-size:20.6px;line-height:20.6px;color:#7F6000;font-weight:400;white-space:pre;overflow:hidden;"><span style="display:inline-block;transform:scaleX(0.945);transform-origin:50% 0">3.25</span></div>
<div style="position:absolute;left:75px;top:786.76px;width:83px;text-align:right;font-size:20.6px;line-height:20.6px;color:#7F6000;font-weight:400;white-space:pre;overflow:hidden;"><span style="display:inline-block;transform:scaleX(0.945);transform-origin:100% 0">7</span></div>
<div style="position:absolute;left:182px;top:786.76px;width:227px;text-align:left;font-size:20.6px;line-height:20.6px;color:#7F6000;font-weight:400;white-space:pre;overflow:hidden;"><span style="display:inline-block;transform:scaleX(0.945);transform-origin:0 0">Efficiency</span></div>
<div style="position:absolute;left:421px;top:786.76px;width:273px;text-align:left;font-size:20.6px;line-height:20.6px;color:#7F6000;font-weight:400;white-space:pre;overflow:hidden;"><span style="display:inline-block;transform:scaleX(0.945);transform-origin:0 0">Deliverable 1</span></div>
<div style="position:absolute;left:694px;top:786.76px;width:70px;text-align:right;font-size:20.6px;line-height:20.6px;color:#7F6000;font-weight:400;white-space:pre;overflow:hidden;"><span style="display:inline-block;transform:scaleX(0.945);transform-origin:100% 0">3</span></div>
<div style="position:absolute;left:964px;top:786.76px;width:133px;text-align:center;font-size:20.6px;line-height:20.6px;color:#7F6000;font-weight:400;white-space:pre;overflow:hidden;"><span style="display:inline-block;transform:scaleX(0.945);transform-origin:50% 0">4</span></div>
<div style="position:absolute;left:1097px;top:786.76px;width:129px;text-align:center;font-size:20.6px;line-height:20.6px;color:#7F6000;font-weight:400;white-space:pre;overflow:hidden;"><span style="display:inline-block;transform:scaleX(0.945);transform-origin:50% 0">4</span></div>
<div style="position:absolute;left:1226px;top:786.76px;width:160px;text-align:center;font-size:20.6px;line-height:20.6px;color:#7F6000;font-weight:400;white-space:pre;overflow:hidden;"><span style="display:inline-block;transform:scaleX(0.945);transform-origin:50% 0">3</span></div>
<div style="position:absolute;left:1386px;top:786.76px;width:159px;text-align:center;font-size:20.6px;line-height:20.6px;color:#7F6000;font-weight:400;white-space:pre;overflow:hidden;"><span style="display:inline-block;transform:scaleX(0.945);transform-origin:50% 0">3</span></div>
<div style="position:absolute;left:1545px;top:786.76px;width:100px;text-align:center;font-size:20.6px;line-height:20.6px;color:#7F6000;font-weight:400;white-space:pre;overflow:hidden;"><span style="display:inline-block;transform:scaleX(0.945);transform-origin:50% 0">3.5</span></div>
<svg style="position:absolute;left:0;top:0;overflow:visible" width="1" height="1"><polyline points="804.0,586.2 848.0,587.5 892.0,580.6 936.0,568.0" fill="none" stroke="#22406E" stroke-width="1.3"/></svg>
<svg style="position:absolute;left:0;top:0;overflow:visible" width="1" height="1"><polyline points="804.0,619.5 848.0,619.5 892.0,599.0 936.0,599.0" fill="none" stroke="#22406E" stroke-width="1.3"/></svg>
<svg style="position:absolute;left:0;top:0;overflow:visible" width="1" height="1"><polyline points="804.0,631.0 848.0,631.0 892.0,650.5 936.0,631.0" fill="none" stroke="#22406E" stroke-width="1.3"/></svg>
<svg style="position:absolute;left:0;top:0;overflow:visible" width="1" height="1"><polyline points="804.0,662.0 848.0,681.5 892.0,662.0 936.0,662.0" fill="none" stroke="#22406E" stroke-width="1.3"/></svg>
<svg style="position:absolute;left:0;top:0;overflow:visible" width="1" height="1"><polyline points="804.0,712.5 848.0,693.0 892.0,712.5 936.0,693.0" fill="none" stroke="#22406E" stroke-width="1.3"/></svg>
<svg style="position:absolute;left:0;top:0;overflow:visible" width="1" height="1"><polyline points="804.0,744.5 848.0,744.5 892.0,724.0 936.0,744.5" fill="none" stroke="#22406E" stroke-width="1.3"/></svg>
<svg style="position:absolute;left:0;top:0;overflow:visible" width="1" height="1"><polyline points="804.0,775.5 848.0,775.5 892.0,775.5 936.0,756.0" fill="none" stroke="#22406E" stroke-width="1.3"/></svg>
<svg style="position:absolute;left:0;top:0;overflow:visible" width="1" height="1"><polyline points="804.0,787.0 848.0,787.0 892.0,807.5 936.0,807.5" fill="none" stroke="#22406E" stroke-width="1.3"/></svg>
<div style="position:absolute;left:407px;top:686px;width:289px;height:34px;border:2px solid #4CAF50;box-sizing:border-box"></div>
<div style="position:absolute;left:690px;top:716px;width:1px;height:3px;background:#D9EAD3"></div>
<div style="position:absolute;left:691px;top:715px;width:6px;height:6px;background:#4CAF50"></div>
</body></html>
